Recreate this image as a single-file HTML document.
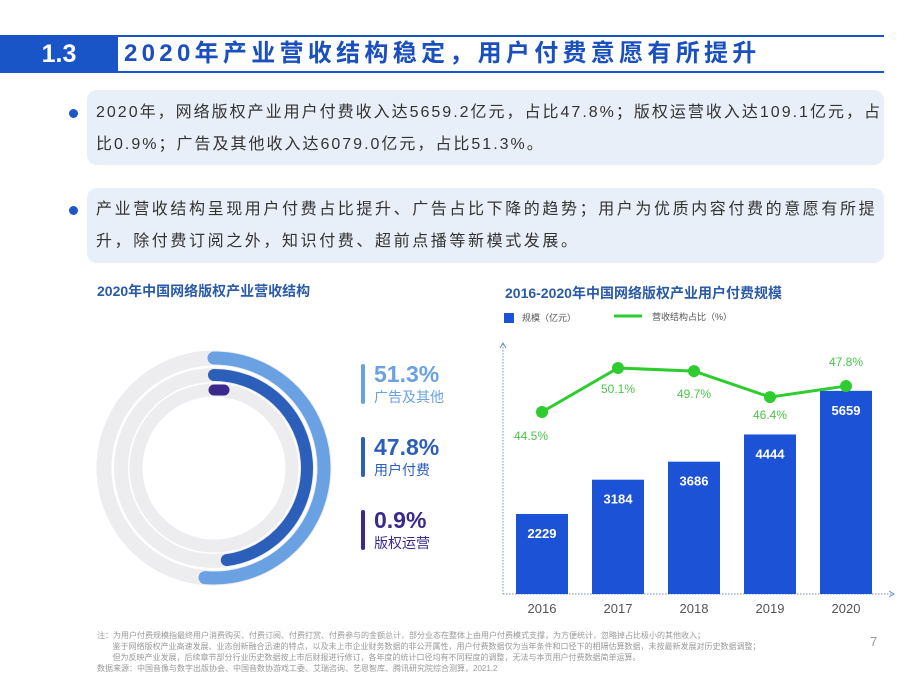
<!DOCTYPE html>
<html><head><meta charset="utf-8">
<style>
body{margin:0;width:918px;height:684px;background:#fff;overflow:hidden;position:relative;font-family:"Liberation Sans","Noto Sans CJK SC",sans-serif;}
.abs{position:absolute;}
.box{position:absolute;left:87px;width:797px;height:75px;background:#e9eff8;border-radius:10px;}
.bul{position:absolute;width:9px;height:9px;border-radius:50%;background:#1e55c8;left:69px;}
.txt{position:absolute;left:96px;font-size:16px;line-height:32px;color:#333;white-space:nowrap;}
.foot{position:absolute;left:97px;font-size:8px;color:#999;line-height:11px;white-space:nowrap;}
</style></head><body>
<div class="abs" style="left:0;top:35px;width:884px;height:2px;background:#1a55c8"></div>
<div class="abs" style="left:0;top:71px;width:884px;height:2px;background:#1a55c8"></div>
<div class="abs" style="left:0;top:36px;width:118px;height:36px;background:#1a55c8;color:#fff;font-size:25px;font-weight:bold;line-height:36px;text-align:center">1.3</div>
<div class="abs" style="left:124px;top:36px;height:36px;line-height:36px;font-size:24px;font-weight:bold;color:#1a4fbf;letter-spacing:4.3px;white-space:nowrap">2020年产业营收结构稳定，用户付费意愿有所提升</div>

<div class="box" style="top:90px"></div>
<div class="bul" style="top:109px"></div>
<div class="txt" style="top:97px;letter-spacing:2px">2020年，网络版权产业用户付费收入达5659.2亿元，占比47.8%；版权运营收入达109.1亿元，占<br>比0.9%；广告及其他收入达6079.0亿元，占比51.3%。</div>
<div class="box" style="top:188px"></div>
<div class="bul" style="top:206px"></div>
<div class="txt" style="top:194px;letter-spacing:2.6px">产业营收结构呈现用户付费占比提升、广告占比下降的趋势；用户为优质内容付费的意愿有所提<br>升，除付费订阅之外，知识付费、超前点播等新模式发展。</div>

<div class="abs" style="left:97px;top:281px;font-size:14px;font-weight:bold;color:#2a5aa8">2020年中国网络版权产业营收结构</div>
<svg class="abs" style="left:0;top:0" width="918" height="684" id="donut"></svg>

<div class="abs" style="left:505px;top:283px;font-size:14px;font-weight:bold;color:#2a5aa8">2016-2020年中国网络版权产业用户付费规模</div>
<svg class="abs" style="left:0;top:0" width="918" height="684" id="bars"></svg>

<div class="foot" style="top:630px">注：为用户付费规模指最终用户消费购买、付费订阅、付费打赏、付费参与的金额总计，部分业态在整体上由用户付费模式支撑，为方便统计，忽略掉占比极小的其他收入；<br>&nbsp;&nbsp;&nbsp;&nbsp;&nbsp;&nbsp;&nbsp;鉴于网络版权产业高速发展、业态创新融合迅速的特点，以及未上市企业财务数据的非公开属性，用户付费数据仅为当年条件和口径下的相隔估算数据，未按最新发展对历史数据调整；<br>&nbsp;&nbsp;&nbsp;&nbsp;&nbsp;&nbsp;&nbsp;但为反映产业发展，后续章节部分行业历史数据按上市后财报进行修订，各年度的统计口径均有不同程度的调整，无法与本页用户付费数据简单运算。<br>数据来源：中国音像与数字出版协会、中国音数协游戏工委、艾瑞咨询、艺恩智库、腾讯研究院综合测算，2021.2</div>
<div class="abs" style="left:870px;top:634px;font-size:13px;color:#999">7</div>

<script>
// Donut data
const donutLabels=["广告及其他","用户付费","版权运营"];
const donutValues=[51.3,47.8,0.9];
const donutColors=["#6aa1e2","#2b5fb9","#3b2a8c"];
const NS="http://www.w3.org/2000/svg";
function mk(parent,tag,attrs){const e=document.createElementNS(NS,tag);for(const k in attrs)e.setAttribute(k,attrs[k]);parent.appendChild(e);return e;}
(function(){
 const svg=document.getElementById('donut');
 const cx=214,cy=468,radii=[110,93,78],widths=[13,12,11];
 for(let i=0;i<3;i++){
  const bg=mk(svg,'circle',{cx:cx,cy:cy,r:radii[i],fill:'none',stroke:'#ededf0','stroke-width':widths[i]+2});
  
  
 }
 for(let i=0;i<3;i++){
  const r=radii[i];
  const a=donutValues[i]/100*2*Math.PI;
  const x1=cx,y1=cy-r,x2=cx+r*Math.sin(a),y2=cy-r*Math.cos(a);
  const large=a>Math.PI?1:0;
  let d;
  if(a<0.15){d=`M${x1},${y1} L${x1+Math.max(r*a,10)},${y1}`;}
  else d=`M${x1},${y1} A${r},${r} 0 ${large} 1 ${x2},${y2}`;
  const p=mk(svg,'path',{d:d,fill:'none',stroke:donutColors[i],'stroke-width':widths[i],'stroke-linecap':'round'});
  
  
  const ly=360+i*73;
  const bar=mk(svg,'line',{x1:363,y1:ly+6,x2:363,y2:ly+42,stroke:donutColors[i],'stroke-width':4,'stroke-linecap':'round'});
  
  
  const t=mk(svg,'text',{x:374,y:ly+22,'font-size':23,'font-weight':'bold',fill:donutColors[i],'font-family':'Liberation Sans, sans-serif'});
  t.textContent=donutValues[i].toFixed(1)+'%';
  
  
  const t2=mk(svg,'text',{x:374,y:ly+42,'font-size':14,fill:donutColors[i],'font-family':'Liberation Sans, Noto Sans CJK SC, sans-serif'});
  t2.textContent=donutLabels[i];
  
  
 }
})();

// Bar chart data
const years=["2016","2017","2018","2019","2020"];
const revenue=[2229,3184,3686,4444,5659];
const share=[44.5,50.1,49.7,46.4,47.8];
const shareLabels=["44.5%","50.1%","49.7%","46.4%","47.8%"];
(function(){
 const svg=document.getElementById('bars');
 const base=594,left=503,slot=76,bw=52,x0=516;
 const yBar=v=>base-v*0.0359;
 const yLine=v=>412-(v-44.5)*7.86;
 const xc=i=>x0+i*slot+bw/2;
 let r=mk(svg,'rect',{x:504,y:313,width:10,height:10,fill:'#1b52d6'});
 
 let t=mk(svg,'text',{x:522,y:321,'font-size':9,fill:'#555'});t.textContent='规模（亿元）';
 
 let l=mk(svg,'line',{x1:614,y1:316,x2:642,y2:316,stroke:'#2ecc2e','stroke-width':3});
 
 t=mk(svg,'text',{x:652,y:320,'font-size':9,fill:'#555'});t.textContent='营收结构占比（%）';
 
 l=mk(svg,'line',{x1:left,y1:344,x2:left,y2:base,stroke:'#6f8fd0','stroke-width':1,'stroke-dasharray':'1.5,1.5'});
 
 let p=mk(svg,'path',{d:`M${left-3},${348} L${left},${343} L${left+3},${348}`,fill:'none',stroke:'#6f8fd0'});
 
 l=mk(svg,'line',{x1:left,y1:base,x2:893,y2:base,stroke:'#6f8fd0','stroke-width':1,'stroke-dasharray':'1.5,1.5'});
 
 p=mk(svg,'path',{d:`M889,${base-3} L894,${base} L889,${base+3}`,fill:'none',stroke:'#6f8fd0'});
 
 years.forEach((y,i)=>{
  const top=yBar(revenue[i]);
  const b=mk(svg,'rect',{x:x0+i*slot,y:top,width:bw,height:base-top,fill:'#1b52d6'});
  
  const v=mk(svg,'text',{x:xc(i),y:top+24,'text-anchor':'middle','font-size':13,'font-weight':'bold',fill:'#fff'});
  v.textContent=revenue[i];
  const xl=mk(svg,'text',{x:xc(i),y:base+19,'text-anchor':'middle','font-size':13,fill:'#555'});
  xl.textContent=y;
 });
 const pts=share.map((v,i)=>xc(i)+','+yLine(v)).join(' ');
 const pl=mk(svg,'polyline',{points:pts,fill:'none',stroke:'#2ecc2e','stroke-width':3});
 
 const offs=[28,25,27,22,-20];
 share.forEach((v,i)=>{
  const c=mk(svg,'circle',{cx:xc(i),cy:yLine(v),r:6,fill:'#2ecc2e'});
  
  const tx=mk(svg,'text',{x:xc(i)-(i==0?11:0),y:yLine(v)+offs[i],'text-anchor':'middle','font-size':12,fill:'#4cc44c'});
  tx.textContent=shareLabels[i];
 });
})();
</script>
</body></html>
